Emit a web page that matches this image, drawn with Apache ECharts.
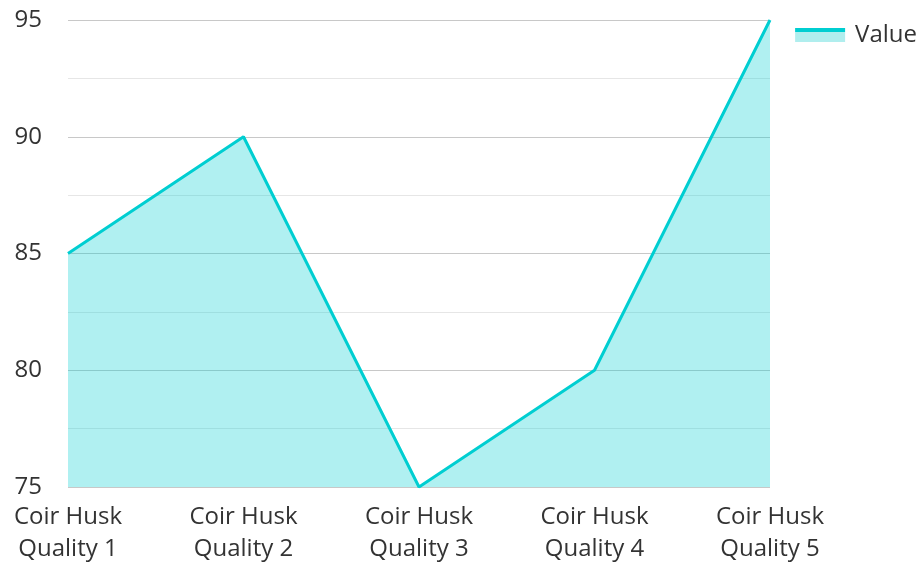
<!DOCTYPE html>
<html>
<head>
<meta charset="utf-8">
<script src="https://cdn.jsdelivr.net/npm/echarts@6/dist/echarts.min.js"></script>
<style>
html, body { margin: 0; padding: 0; background: #fff; }
#chart { width: 919px; height: 563px; }
</style>
</head>
<body>
<div id="chart"></div>
<script>
var categories = ['Coir Husk Quality 1', 'Coir Husk Quality 2', 'Coir Husk Quality 3', 'Coir Husk Quality 4', 'Coir Husk Quality 5'];
var values = [85, 90, 75, 80, 95];
var seriesName = 'Value';

var lineColor = '#00CED1';
var areaColor = 'rgba(0, 206, 209, 0.31)';

var chart = echarts.init(document.getElementById('chart'));

var option = {
	textStyle : {
		fontFamily : 'Open Sans'
	},
	legend : {
		right : -3,
		top : 18,
		icon : 'rect',
		itemWidth : 50,
		itemHeight : 14,
		itemGap : 10,
		textStyle : {
			fontSize : 24,
			color : '#333',
			fontFamily : 'Open Sans',
			padding : [ 0, 0, 0, 5 ]
		},
		itemStyle : {
			color : new echarts.graphic.LinearGradient(0, 0, 0, 1, [
				{ offset : 0, color : lineColor },
				{ offset : 0.28, color : lineColor },
				{ offset : 0.28, color : '#b0eeee' },
				{ offset : 1, color : '#b0eeee' }
			])
		},
		data : [ seriesName ]
	},
	grid : {
		left : 68,
		right : 149,
		top : 20,
		bottom : 76,
		outerBoundsMode : 'none'
	},
	xAxis : {
		type : 'category',
		boundaryGap : false,
		data : categories,
		axisLine : { show : false },
		axisTick : { show : false },
		axisLabel : {
			fontSize : 24,
			color : '#333',
			lineHeight : 32,
			margin : 14,
			formatter : function(v) {
				var i = v.lastIndexOf(' Quality');
				return v.slice(0, i) + '\n' + v.slice(i + 1);
			}
		}
	},
	yAxis : {
		type : 'value',
		min : 75,
		max : 95,
		interval : 5,
		axisLine : { show : false },
		axisTick : { show : false },
		axisLabel : {
			fontSize : 24,
			color : '#333',
			margin : 26
		},
		splitLine : {
			lineStyle : { color : '#c8c8c8', width : 1 }
		},
		minorTick : { show : false, splitNumber : 2 },
		minorSplitLine : {
			show : true,
			lineStyle : { color : '#e6e6e6', width : 1 }
		}
	},
	series : [ {
		name : seriesName,
		type : 'line',
		data : values,
		symbol : 'none',
		lineStyle : { color : lineColor, width : 3 },
		itemStyle : { color : lineColor },
		areaStyle : { color : areaColor, opacity : 1 }
	} ]
};

chart.setOption(option);
</script>
</body>
</html>
